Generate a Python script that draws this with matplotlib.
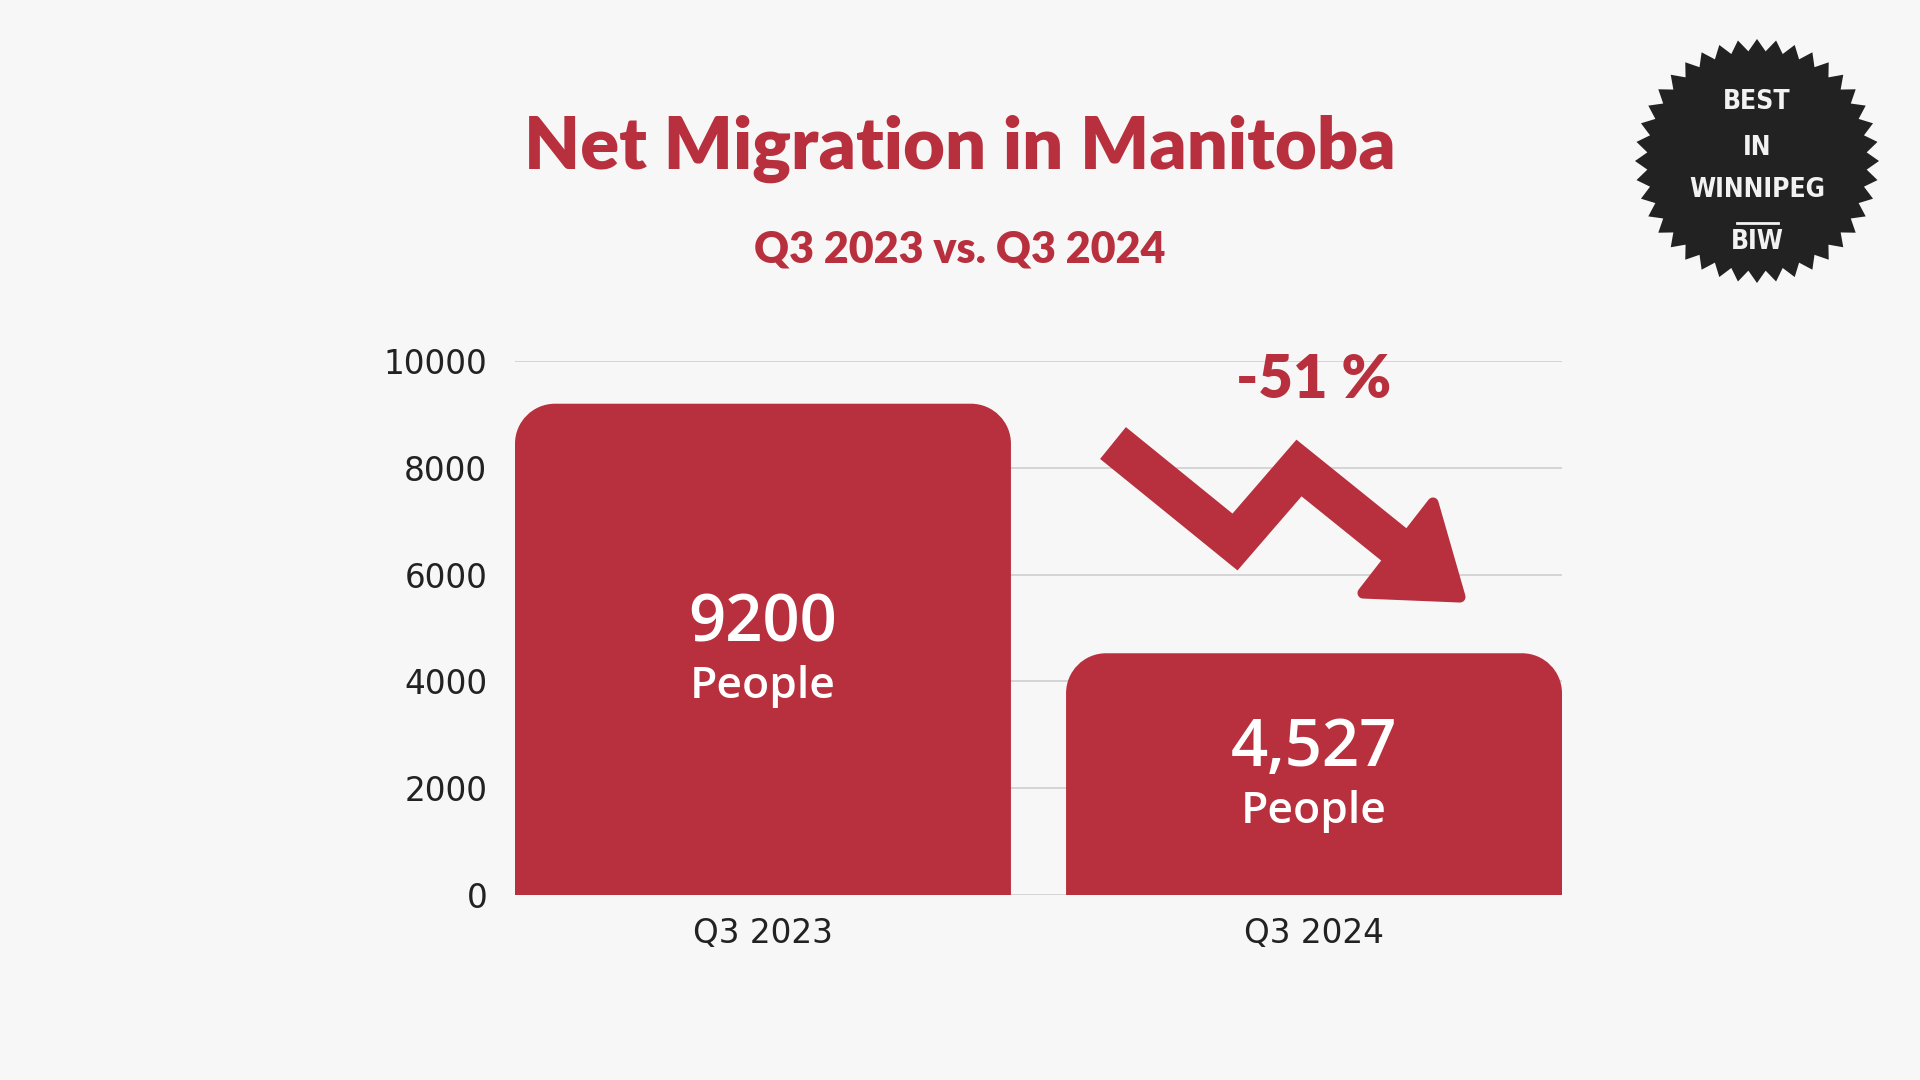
import numpy as np
import matplotlib.pyplot as plt
from matplotlib.path import Path
from matplotlib.patches import PathPatch, Polygon
from matplotlib.lines import Line2D

# data
quarters = ["Q3 2023", "Q3 2024"]
migrants = [9200, 4527]
value_labels = ["9200", "4,527"]
change_label = "-51 %"
y_ticks = [0, 2000, 4000, 6000, 8000, 10000]

RED = "#B8303D"
BG = "#F7F7F7"
W, H = 1920, 1080

fig = plt.figure(figsize=(19.2, 10.8), dpi=100, facecolor=BG)
ax = fig.add_axes([515 / W, 185 / H, 1047 / W, 534 / H])
ax.set_facecolor(BG)
ax.set_xlim(-0.45, 1.45)
ax.set_ylim(0, 10000)
ax.set_yticks(y_ticks)
ax.grid(axis="y", color="#CFCFCF", linewidth=1.2)
ax.set_axisbelow(True)
for s in ax.spines.values():
    s.set_visible(False)
ax.tick_params(length=0)
ax.tick_params(axis="y", pad=20, labelsize=23.5, labelcolor="#222222")
ax.tick_params(axis="x", pad=16, labelsize=23.5, labelcolor="#222222")

bars = ax.bar(range(len(quarters)), migrants, width=0.9, color=RED)
ax.set_xticks(range(len(quarters)))
ax.set_xticklabels(quarters)
for lab in ax.get_xticklabels() + ax.get_yticklabels():
    lab.set_family("DejaVu Sans")


def round_top(bar, r_px=40):
    # replace a plain bar by one with rounded top corners
    x0, y0 = bar.get_x(), bar.get_y()
    x1, y1 = x0 + bar.get_width(), y0 + bar.get_height()
    p0 = ax.transData.transform((0, 0))
    p1 = ax.transData.transform((1, 1))
    rx = r_px / (p1[0] - p0[0])
    ry = r_px / (p1[1] - p0[1])
    k = 0.5523
    verts = [(x0, y0), (x1, y0), (x1, y1 - ry),
             (x1, y1 - ry + k * ry), (x1 - rx + k * rx, y1), (x1 - rx, y1),
             (x0 + rx, y1),
             (x0 + rx - k * rx, y1), (x0, y1 - ry + k * ry), (x0, y1 - ry),
             (x0, y0)]
    codes = [Path.MOVETO, Path.LINETO, Path.LINETO,
             Path.CURVE4, Path.CURVE4, Path.CURVE4,
             Path.LINETO,
             Path.CURVE4, Path.CURVE4, Path.CURVE4,
             Path.CLOSEPOLY]
    bar.set_visible(False)
    ax.add_patch(PathPatch(Path(verts, codes), facecolor=RED, edgecolor="none", zorder=2))


for b in bars:
    round_top(b)

for i, (v, lab) in enumerate(zip(migrants, value_labels)):
    ax.annotate(lab, (i, v / 2), xytext=(0, 6), textcoords="offset points",
                ha="center", va="baseline", color="white", fontsize=47,
                fontweight="semibold", family="Open Sans", zorder=3)
    ax.annotate("People", (i, v / 2), xytext=(0, -35), textcoords="offset points",
                ha="center", va="baseline", color="white", fontsize=32,
                fontweight="semibold", family="Open Sans", zorder=3)

# titles
fig.text(0.5, 1 - 149 / H, "Net Migration in Manitoba", ha="center", va="center",
         color=RED, fontsize=52, fontweight="heavy", family="Lato")
fig.text(0.5, 1 - 249 / H, "Q3 2023 vs. Q3 2024", ha="center", va="center",
         color=RED, fontsize=31, fontweight="heavy", family="Lato")

# change label and zigzag arrow (figure pixels)
fig.text(1314 / W, 1 - 380 / H, change_label, ha="center", va="center",
         color=RED, fontsize=43, fontweight="heavy", family="Lato")
zig = np.array([(1113, 443), (1235, 542), (1299, 468), (1402, 551)])
fig.add_artist(Line2D(zig[:, 0] / W, 1 - zig[:, 1] / H, transform=fig.transFigure,
                      color=RED, linewidth=29.5, solid_joinstyle="miter",
                      solid_capstyle="butt"))
head = np.array([(1433, 503), (1460, 597), (1363, 593)])
fig.add_artist(Polygon(np.column_stack([head[:, 0] / W, 1 - head[:, 1] / H]),
                       closed=True, transform=fig.transFigure, facecolor=RED,
                       edgecolor=RED, linewidth=8, joinstyle="round"))

# badge
cx, cy = 1757, 161
n_teeth = 40
ang = np.linspace(0, 2 * np.pi, 2 * n_teeth, endpoint=False)
rad = np.where(np.arange(2 * n_teeth) % 2 == 0, 122, 110)
star = np.column_stack([(cx + rad * np.cos(ang)) / W, 1 - (cy + rad * np.sin(ang)) / H])
fig.add_artist(Polygon(star, closed=True, transform=fig.transFigure,
                       facecolor="#222222", edgecolor="none"))
for txt, yy in [("BEST", 102), ("IN", 148), ("WINNIPEG", 190), ("BIW", 242)]:
    fig.text(cx / W, 1 - yy / H, txt, ha="center", va="center", color="#F2F2F2",
             fontsize=19, family="DejaVu Sans", fontstretch="condensed",
             fontweight="bold")
fig.add_artist(Line2D([1737 / W, 1778 / W], [1 - 223 / H, 1 - 223 / H],
                      transform=fig.transFigure, color="#F2F2F2", linewidth=2))

fig.savefig("out.png", dpi=100, facecolor=BG)
